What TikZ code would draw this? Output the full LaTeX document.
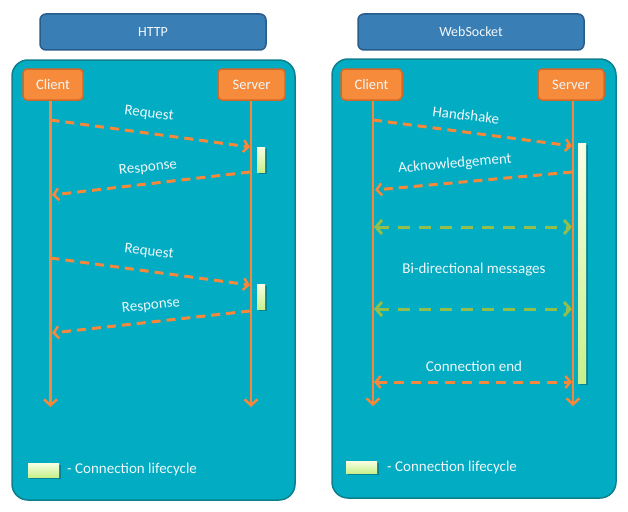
\documentclass[tikz,border=0pt]{standalone}
\usepackage{fontspec}
\setmainfont{Carlito}
\usetikzlibrary{arrows.meta}
\definecolor{panelfill}{RGB}{2,172,194}
\definecolor{paneledge}{RGB}{12,128,142}
\definecolor{titlefill}{RGB}{58,126,182}
\definecolor{titleedge}{RGB}{40,92,138}
\definecolor{orfill}{RGB}{246,139,60}
\definecolor{oredge}{RGB}{212,104,40}
\definecolor{orline}{RGB}{245,136,58}
\definecolor{grline}{RGB}{146,190,76}
\definecolor{txt}{RGB}{240,248,250}
\definecolor{lifeA}{RGB}{248,255,228}
\definecolor{lifeB}{RGB}{200,240,140}
\definecolor{lifesh}{RGB}{8,130,146}
\begin{document}
\begin{tikzpicture}[x=1pt,y=-1pt,
  every node/.style={font=\fontsize{15}{17}\selectfont, text=txt},
  titlebox/.style={draw=titleedge, line width=1.5pt, fill=titlefill, rounded corners=6pt, minimum height=36pt, font=\fontsize{14}{16}\selectfont},
  panel/.style={draw=paneledge, line width=1.5pt, fill=panelfill, rounded corners=16pt},
  actor/.style={draw=oredge, line width=1.5pt, fill=orfill, rounded corners=4pt, minimum height=31pt, inner sep=2pt, font=\fontsize{14.5}{16}\selectfont},
  lifeline/.style={draw=orline, line width=2.5pt, -{Straight Barb[length=6pt,width=13pt,line width=2.5pt]}},
  msg/.style={draw=orline, line width=3pt, dash pattern=on 9pt off 6pt, -{Straight Barb[length=5pt,width=12pt,line width=2.5pt]}},
  bimsg/.style={msg, {Straight Barb[length=5pt,width=12pt,line width=2.5pt]}-{Straight Barb[length=5pt,width=12pt,line width=2.5pt]}},
  grmsg/.style={msg, draw=grline, dash pattern=on 12pt off 9pt, {Straight Barb[length=6pt,width=14pt,line width=3pt]}-{Straight Barb[length=6pt,width=14pt,line width=3pt]}},
  lifebox/.style={top color=lifeA, bottom color=lifeB, draw=none},
  lbl/.style={inner sep=1pt}
]
\useasboundingbox (0,0) rectangle (628,511);

% ===== HTTP =====
\node[titlebox, minimum width=226pt] (httpt) at (153,32) {HTTP};
\node[panel, minimum width=283pt, minimum height=440pt] (lp) at (153.5,280) {};
\node[actor, minimum width=60pt] (lc) at (53,84.5) {Client};
\node[actor, minimum width=67pt] (ls) at (251.5,84.5) {Server};
\coordinate (lce) at (50.5,407);
\coordinate (lse) at (251,407);
\draw[lifeline] (lc.south -| lce) -- (lce);
\draw[lifeline] (ls.south -| lse) -- (lse);

\fill[lifesh] (258.5,148.5) rectangle (266.5,173.5);
\fill[lifebox] (257,147) rectangle (265,172);
\fill[lifesh] (258.5,285.5) rectangle (266.5,310.5);
\fill[lifebox] (257,284) rectangle (265,309);

\coordinate (l1a) at (50.5,120);  \coordinate (l1b) at (250,147);
\coordinate (l2a) at (250,172);   \coordinate (l2b) at (52,195);
\coordinate (l3a) at (50.5,258);  \coordinate (l3b) at (250,285);
\coordinate (l4a) at (250,311);   \coordinate (l4b) at (52,333);
\draw[msg] (l1a) -- (l1b);
\draw[msg] (l2a) -- (l2b);
\draw[msg] (l3a) -- (l3b);
\draw[msg] (l4a) -- (l4b);
\node[lbl, rotate=-7] (t1) at (149,114) {Request};
\node[lbl, rotate=6.5] (t2) at (148,168) {Response};
\node[lbl, rotate=-7] (t3) at (149,252) {Request};
\node[lbl, rotate=6.5] (t4) at (151,306) {Response};

\fill[lifesh] (29.5,464.5) rectangle (60.5,478.5);
\fill[lifebox] (28,463) rectangle (59,477);
\node[anchor=west, inner sep=0pt] (lg1) at (67,469) {- Connection lifecycle};

% ===== WebSocket =====
\node[titlebox, minimum width=226pt] (wst) at (471,32) {WebSocket};
\node[panel, minimum width=284pt, minimum height=439pt] (rp) at (474,278.5) {};
\node[actor, minimum width=61pt] (rc) at (371.5,84.5) {Client};
\node[actor, minimum width=66pt] (rs) at (571,84.5) {Server};
\coordinate (rce) at (373,406);
\coordinate (rse) at (573,406);
\draw[lifeline] (rc.south -| rce) -- (rce);
\draw[lifeline] (rs.south -| rse) -- (rse);

\fill[lifesh] (579.5,144.5) rectangle (587.5,384.5);
\fill[lifebox] (578,143) rectangle (586,383);

\coordinate (r1a) at (373,120);  \coordinate (r1b) at (572,146);
\coordinate (r2a) at (572,172);  \coordinate (r2b) at (375,190);
\coordinate (r3a) at (374,227);  \coordinate (r3b) at (572,227);
\coordinate (r4a) at (374,309);  \coordinate (r4b) at (572,309);
\coordinate (r5a) at (374,382);  \coordinate (r5b) at (572,382);
\draw[msg] (r1a) -- (r1b);
\draw[msg] (r2a) -- (r2b);
\draw[grmsg] (r3a) -- (r3b);
\draw[grmsg] (r4a) -- (r4b);
\draw[bimsg, dash pattern=on 10pt off 7pt] (r5a) -- (r5b);
\node[lbl, rotate=-7] (u1) at (466,115) {Handshake};
\node[lbl, rotate=5] (u2) at (455,164) {Acknowledgement};
\node[lbl] (u3) at (474,270) {Bi-directional messages};
\node[lbl] (u5) at (474,366) {Connection end};

\fill[lifesh] (347.5,462.5) rectangle (378.5,474.5);
\fill[lifebox] (346,461) rectangle (377,473);
\node[anchor=west, inner sep=0pt] (lg2) at (387,467) {- Connection lifecycle};
\end{tikzpicture}
\end{document}
